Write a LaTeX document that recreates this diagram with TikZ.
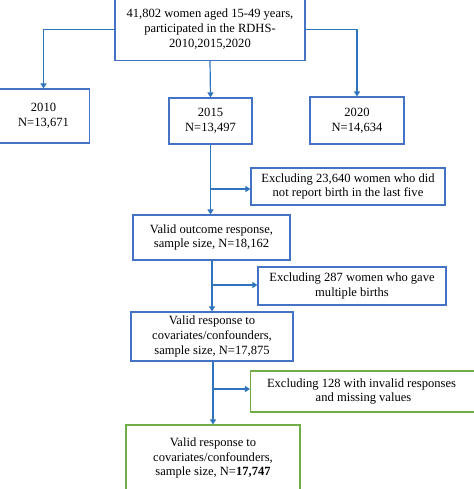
\documentclass[tikz,border=0pt]{standalone}
\usepackage{fontspec}
\setmainfont{Liberation Serif}
\usetikzlibrary{arrows.meta,calc}
\definecolor{boxblue}{RGB}{68,114,196}
\definecolor{arrowblue}{RGB}{46,117,190}
\definecolor{boxgreen}{RGB}{112,173,71}
\begin{document}
\begin{tikzpicture}[x=1bp,y=-1bp,
  box/.style={draw=boxblue,line width=1.1bp,align=center,inner sep=0pt,
    font=\fontsize{12.6}{15}\selectfont,fill=white},
  gbox/.style={box,draw=boxgreen},
  conn/.style={draw=arrowblue,line width=1.2bp,-{Triangle[width=6bp,length=5bp]}}]
\fill[white] (0,0) rectangle (474,489);
\useasboundingbox (0,0) rectangle (474,489);
\node[box,minimum width=190bp,minimum height=62bp] (top) at (210,29.5) {41,802 women aged 15-49 years,\\participated in the RDHS-\\2010,2015,2020};
\node[box,minimum width=92bp,minimum height=54bp] (y2010) at (43.5,116) {2010\\N=13,671};
\node[box,minimum width=83bp,minimum height=46bp] (y2015) at (210.5,121) {2015\\N=13,497};
\node[box,minimum width=94bp,minimum height=47bp] (y2020) at (357,120.5) {2020\\N=14,634};
\node[box,minimum width=194bp,minimum height=37bp] (ex1) at (348,186.5) {Excluding 23,640 women who did\\not report birth in the last five};
\node[box,minimum width=157bp,minimum height=45bp] (v1) at (211.5,237.5) {Valid outcome response,\\sample size, N=18,162};
\node[box,minimum width=188bp,minimum height=38bp] (ex2) at (352,286) {Excluding 287 women who gave\\multiple births};
\node[box,minimum width=162bp,minimum height=49bp] (v2) at (212,336.5) {Valid response to\\covariates/confounders,\\sample size, N=17,875};
\node[gbox,minimum width=226bp,minimum height=41bp] (ex3) at (363.5,391.5) {\hspace*{-4bp}Excluding 128 with invalid responses\\and missing values};
\node[gbox,minimum width=174bp,minimum height=66bp] (fin) at (213,458) {Valid response to\\covariates/confounders,\\sample size, N=\textbf{17,747}};
\draw[conn] (top.west) -| (y2010.north);
\draw[conn] (top.east) -| (y2020.north);
\draw[conn] (top.south) -- (y2015.north);
\coordinate (b1) at (210.5,189);
\draw[conn] (y2015.south) -- (y2015.south |- v1.north);
\draw[conn] (b1) -- (b1 -| ex1.west);
\coordinate (b2) at (212,285);
\draw[conn] (v1.south -| b2) -- (b2 |- v2.north);
\draw[conn] (b2) -- (b2 -| ex2.west);
\coordinate (b3) at (213,389);
\draw[conn] (v2.south -| b3) -- (b3 |- fin.north);
\draw[conn] (b3) -- (b3 -| ex3.west);
\end{tikzpicture}
\end{document}
